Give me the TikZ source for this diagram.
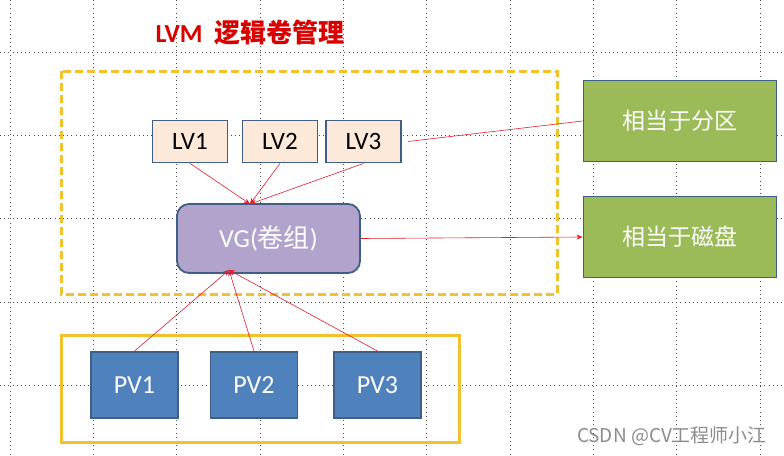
\documentclass[tikz,border=0pt]{standalone}
\usepackage{fontspec}
\setmainfont{Carlito}
\newfontfamily\cjk{Noto Sans CJK SC}
\usetikzlibrary{arrows.meta}
\definecolor{lvfill}{HTML}{FCE9DA}
\definecolor{bord}{HTML}{3F5F86}
\definecolor{vgfill}{HTML}{B1A3CB}
\definecolor{grfill}{HTML}{9BBB59}
\definecolor{pvfill}{HTML}{4F81BD}
\definecolor{ybox}{HTML}{F2C12E}
\definecolor{arr}{HTML}{E0202C}
\tikzset{
  box/.style={draw=bord,line width=1.8pt,inner sep=0pt},
  lv/.style={box,fill=lvfill,minimum width=75pt,minimum height=42pt,font=\fontsize{25}{25}\selectfont},
  pv/.style={box,fill=pvfill,minimum width=87pt,minimum height=66pt,text=white,font=\fontsize{26}{26}\selectfont},
  gr/.style={box,fill=grfill,minimum width=193pt,minimum height=81pt,text=white,font=\fontsize{23}{23}\selectfont\cjk},
  con/.style={draw=arr,line width=0.6pt},
  ar/.style={con,-{Stealth[length=6pt,width=5pt]}},
  grid/.style={black!70,line width=0.8pt,dash pattern=on 0.8pt off 3.4pt}
}
\begin{document}
\begin{tikzpicture}[x=1pt,y=-1pt]
\useasboundingbox (0,0) rectangle (784,455);
\fill[white] (0,0) rectangle (784,455);
\foreach \i in {0,...,9} \draw[grid] ({10+83.33*\i},0) -- ({10+83.33*\i},455);
\foreach \j in {0,...,4} \draw[grid] (0,{52+83.33*\j}) -- (784,{52+83.33*\j});
\node[text=red!85!black,font=\fontsize{26}{26}\selectfont\bfseries] (title) at (250,33) {LVM\ \ {\cjk 逻辑卷管理}};
\draw[ybox,line width=3pt,dash pattern=on 8pt off 4pt] (61,71) rectangle (557,294);
\draw[ybox,line width=3pt] (61,335) rectangle (459,442);
\node[lv] (lv1) at (190,141.5) {LV1};
\node[lv] (lv2) at (280,141.5) {LV2};
\node[lv] (lv3) at (363.5,141.5) {LV3};
\node[box,fill=vgfill,rounded corners=12pt,minimum width=183pt,minimum height=69pt,text=white,font=\fontsize{26}{26}\selectfont] (vg) at (268.5,238.5) {VG({\cjk 卷组})};
\node[gr] (p1) at (680,121) {相当于分区};
\node[gr] (p2) at (680,237) {相当于磁盘};
\node[pv] (pv1) at (134.5,385) {PV1};
\node[pv] (pv2) at (254,385) {PV2};
\node[pv] (pv3) at (377.5,385) {PV3};
\coordinate (vgt) at (250,204);
\coordinate (vgb) at (229,270);
\draw[ar] (lv1.south) -- (vgt);
\draw[ar] (lv2.south) -- (vgt);
\draw[ar] (lv3.south) -- (vgt);
\draw[con] ([xshift=6pt]lv3.east) -- (p1.west);
\draw[ar] (vg.east) -- (p2.west);
\draw[ar] (pv1.north) -- (vgb);
\draw[ar] (pv2.north) -- (vgb);
\draw[ar] (pv3.north) -- (vgb);
\node[text=gray!90,font=\fontsize{19}{19}\selectfont\cjk] (wm) at (672,436) {CSDN @CV工程师小江};
\end{tikzpicture}
\end{document}
